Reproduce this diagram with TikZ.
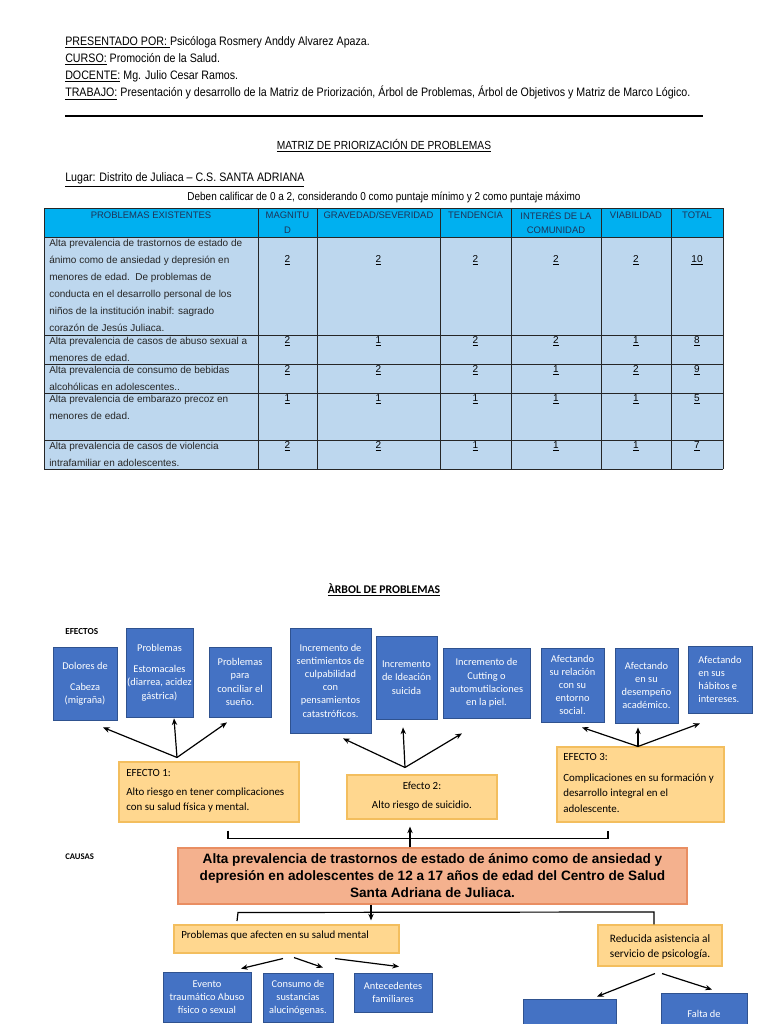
\documentclass[tikz,border=0pt]{standalone}
\usepackage{fontspec}
\setmainfont{Liberation Sans}
\newfontfamily\nar[FakeStretch=0.87]{Liberation Sans}
\newfontfamily\calib{Carlito}
\usetikzlibrary{arrows.meta,calc}
\definecolor{cyanh}{HTML}{00B0F0}
\definecolor{rowb}{HTML}{BDD7EE}
\definecolor{hdrtxt}{HTML}{1F3458}
\definecolor{blueF}{HTML}{4472C4}
\definecolor{blueB}{HTML}{2F528F}
\definecolor{goldF}{HTML}{FFD78F}
\definecolor{goldB}{HTML}{F3BE5E}
\definecolor{salF}{HTML}{F4B18E}
\definecolor{salB}{HTML}{E98E62}
\begin{document}
\begin{tikzpicture}[x=0.75pt,y=-0.75pt,
  sz/.style 2 args={minimum width=#1*0.75pt, minimum height=#2*0.75pt},
  hdr/.style={anchor=west, inner sep=0, font=\nar\fontsize{9.2}{10}\selectfont},
  thd/.style={inner sep=0, text=hdrtxt, font=\fontsize{7.1}{8}\selectfont},
  ttx/.style={anchor=north west, inner sep=0, align=left, text=black!85, font=\fontsize{7.5}{12.75}\selectfont},
  num/.style={inner sep=0, font=\fontsize{7.5}{8}\selectfont},
  tline/.style={line width=0.7pt, black!85},
  bluebox/.style={draw=blueB, fill=blueF, line width=0.6pt, text=white, inner sep=0, align=center, font=\calib\fontsize{7.8}{9.9}\selectfont},
  goldbox/.style={draw=goldB, fill=goldF, line width=0.8pt, inner sep=0},
  gtext/.style={inner sep=0, font=\calib\fontsize{8.2}{10}\selectfont},
  mainbox/.style={draw=salB, fill=salF, line width=0.8pt, inner sep=0, align=center, font=\bfseries\fontsize{10.2}{12.75}\selectfont},
  arr/.style={-{Stealth[length=5pt,width=4pt]}, line width=0.9pt},
  conn/.style={line width=0.9pt}]
\useasboundingbox (0,0) rectangle (768,1024);
\fill[white] (0,0) rectangle (768,1024);
\clip (0,0) rectangle (768,1024);

% ---------- header ----------
\node[hdr] (h1) at (65,42) {\underline{PRESENTADO POR:\ }Psicóloga Rosmery Anddy Alvarez Apaza.};
\node[hdr] (h2) at (65,59) {\underline{CURSO:}\ Promoción de la Salud.};
\node[hdr] (h3) at (65,76) {\underline{DOCENTE:}\ Mg. Julio Cesar Ramos.};
\node[hdr] (h4) at (65,93) {\underline{TRABAJO:}\ Presentación y desarrollo de la Matriz de Priorización, Árbol de Problemas, Árbol de Objetivos y Matriz de Marco Lógico.};
\draw[line width=0.8pt] (65,116) -- (703,116);

\node[hdr, anchor=center, font=\nar\fontsize{8.8}{10}\selectfont] (mt) at (384,146) {\underline{MATRIZ DE PRIORIZACIÓN DE PROBLEMAS}};
\node[hdr] (lg) at (65,180) {\underline{Lugar: Distrito de Juliaca – C.S. SANTA ADRIANA}};
\node[hdr, anchor=center, font=\nar\fontsize{8.6}{10}\selectfont] (db) at (384,197) {Deben calificar de 0 a 2, considerando 0 como puntaje mínimo y 2 como puntaje máximo};

% ---------- table ----------
\fill[cyanh] (44,208) rectangle (723,237);
\fill[rowb] (44,237) rectangle (723,469);
\foreach \yy in {208,237,335,364,393,440,469} \draw[tline] (44,\yy) -- (723,\yy);
\foreach \xx in {44,258,317,440,511,601,671,723} \draw[tline] (\xx,208) -- (\xx,469);

\node[thd] (c1) at (151,215) {PROBLEMAS EXISTENTES};
\node[thd] (c2a) at (287.5,215) {MAGNITU};
\node[thd] (c2b) at (287.5,230) {D};
\node[thd] (c3) at (378.5,215) {GRAVEDAD/SEVERIDAD};
\node[thd] (c4) at (475.5,215) {TENDENCIA};
\node[thd] (c5a) at (556,215) {INTERÉS DE LA};
\node[thd] (c5b) at (556,230) {COMUNIDAD};
\node[thd] (c6) at (636,215) {VIABILIDAD};
\node[thd] (c7) at (697,215) {TOTAL};

\node[ttx] (r1) at (49,239) {Alta prevalencia de trastornos de estado de\\ánimo como de ansiedad y depresión en\\menores de edad.\ \ De problemas de\\conducta en el desarrollo personal de los\\niños de la institución inabif: sagrado\\corazón de Jesús Juliaca.};
\node[ttx] (r2) at (49,337) {Alta prevalencia de casos de abuso sexual a\\menores de edad.};
\node[ttx] (r3) at (49,366) {Alta prevalencia de consumo de bebidas\\alcohólicas en adolescentes..};
\node[ttx] (r4) at (49,395) {Alta prevalencia de embarazo precoz en\\menores de edad.};
\node[ttx] (r5) at (49,442) {Alta prevalencia de casos de violencia\\intrafamiliar en adolescentes.};

\foreach \yy/\a/\b/\c/\d/\e/\f in {260/2/2/2/2/2/10, 341/2/1/2/2/1/8, 370/2/2/2/1/2/9, 399/1/1/1/1/1/5, 446/2/2/1/1/1/7}{
  \node[num] at (287.5,\yy) {\underline{\a}};
  \node[num] at (378.5,\yy) {\underline{\b}};
  \node[num] at (475.5,\yy) {\underline{\c}};
  \node[num] at (556,\yy) {\underline{\d}};
  \node[num] at (636,\yy) {\underline{\e}};
  \node[num] at (697,\yy) {\underline{\f}};
}

% ---------- tree ----------
\node[inner sep=0, font=\calib\bfseries\fontsize{8.8}{10}\selectfont] (tt) at (384,590) {\underline{ÀRBOL DE PROBLEMAS}};
\node[anchor=west, inner sep=0, font=\calib\bfseries\fontsize{6.9}{8}\selectfont] (lef) at (65,632) {EFECTOS};
\node[anchor=west, inner sep=0, font=\calib\bfseries\fontsize{6.5}{8}\selectfont] (lca) at (65,857) {CAUSAS};

\node[bluebox, sz={64}{73}] (d1) at (85,683.5) {Dolores de\\[6pt]Cabeza\\(migraña)};
\node[bluebox, sz={67}{89}] (d2) at (159.5,672.5) {Problemas\\[6pt]Estomacales\\(diarrea, acidez\\gástrica)};
\node[bluebox, sz={62}{70}] (d3) at (240,682) {Problemas\\para\\conciliar el\\sueño.};
\node[bluebox, sz={81}{105}] (d4) at (330.5,680.5) {Incremento de\\sentimientos de\\culpabilidad\\con\\pensamientos\\catastróficos.};
\node[bluebox, sz={61}{83}] (d5) at (406.5,677.5) {Incremento\\de Ideación\\suicida};
\node[bluebox, sz={87}{70}] (d6) at (486.5,683) {Incremento de\\Cutting o\\automutilaciones\\en la piel.};
\node[bluebox, sz={63}{74}] (d7) at (572.5,685) {Afectando\\su relación\\con su\\entorno\\social.};
\node[bluebox, sz={63}{75}] (d8) at (646.5,685.5) {Afectando\\en su\\desempeño\\académico.};
\node[bluebox, sz={64}{67}, align=left] (d9) at (720,679.5) {Afectando\\en sus\\hábitos e\\intereses.};

\node[goldbox, sz={180}{60}] (ef1) at (209,792) {};
\node[gtext, anchor=west] (ef1a) at (126,773) {EFECTO 1:};
\node[gtext, anchor=west] (ef1b) at (126,793) {Alto riesgo en tener complicaciones};
\node[gtext, anchor=west] (ef1c) at (126,808) {con su salud física y mental.};

\node[goldbox, sz={150}{44}] (ef2) at (422,797) {};
\node[gtext] (ef2a) at (422,786) {Efecto 2:};
\node[gtext] (ef2b) at (422,806) {Alto riesgo de suicidio.};

\node[goldbox, sz={167}{75}] (ef3) at (640.5,784.5) {};
\node[gtext, anchor=west] (ef3a) at (563,757) {EFECTO 3:};
\node[gtext, anchor=west] (ef3b) at (563,779) {Complicaciones en su formación y};
\node[gtext, anchor=west] (ef3c) at (563,794) {desarrollo integral en el};
\node[gtext, anchor=west] (ef3d) at (563,809) {adolescente.};

% effect arrows
\draw[arr] ($(ef1.north)+(-32,-4)$) -- ($(d1.south)+(18,7)$);
\draw[arr] ($(ef1.north)+(-32,-4)$) -- ($(d2.south)+(14.5,1)$);
\draw[arr] ($(ef1.north)+(-32,-4)$) -- ($(d3.south)+(-13,5)$);
\draw[arr] ($(ef2.north)+(-17,-7)$) -- ($(d4.south)+(12.5,5)$);
\draw[arr] ($(ef2.north)+(-17,-7)$) -- ($(d5.south)+(-3.5,8)$);
\draw[arr] ($(ef2.north)+(-17,-7)$) -- ($(d6.south)+(-24.5,15)$);
\draw[arr] ($(ef3.north)+(-2.5,0)$) -- ($(d7.south)+(9.5,5)$);
\draw[arr] ($(ef3.north)+(-2.5,0)$) -- ($(d8.south)+(-8.5,4)$);
\draw[arr] ($(ef3.north)+(-2.5,0)$) -- ($(d9.south)+(-20,10)$);

% main problem
\node[mainbox, sz={509}{56}] (mp) at (432.5,876) {Alta prevalencia de trastornos de estado de ánimo como de ansiedad y\\depresión en adolescentes de 12 a 17 años de edad del Centro de Salud\\Santa Adriana de Juliaca.};

\draw[conn] ($(ef1.south)+(19,8)$) -- ($(ef1.south)+(19,16)$) -- ($(ef3.south)+(-32.5,16)$) -- ($(ef3.south)+(-32.5,8)$);
\draw[arr] ($(mp.north)+(-22.5,0)$) -- ($(ef2.south)+(-12,7)$);

% causes
\node[goldbox, sz={225}{28}] (ps) at (286.5,939) {};
\node[gtext, anchor=west] (pst) at (181,936) {Problemas que afecten en su salud mental};
\node[goldbox, sz={124}{41}] (rd) at (660,945.5) {};
\node[gtext, align=center, font=\calib\fontsize{8.5}{11.25}\selectfont] (rdt) at (660,947.5) {Reducida asistencia al\\servicio de psicología.};

\draw[arr] ($(mp.south)+(-61.5,0)$) -- ($(ps.north)+(84.5,-4)$);
\draw[conn] (237,921) -- (238,912.5) -- ($(rd.north)+(-6,-12.5)$) -- ($(rd.north)+(-6,0)$);

\node[bluebox, sz={88}{50}] (ev) at (207,997) {Evento\\traumático Abuso\\físico o sexual};
\node[bluebox, sz={70}{49}] (cs) at (298,997.5) {Consumo de\\sustancias\\alucinógenas.};
\node[bluebox, sz={78}{39}] (an) at (393,992.5) {Antecedentes\\familiares};
\node[bluebox, sz={93}{40}] (bl) at (569.5,1019) {};
\node[bluebox, sz={86}{44}] (fa) at (704,1015) {};
\node[inner sep=0, text=white, font=\calib\fontsize{7.8}{9.9}\selectfont] (fat) at (704,1014) {Falta de};

\draw[arr] ($(ps.south)+(-3.5,5)$) -- ($(ev.north)+(34,-3)$);
\draw[arr] ($(ps.south)+(7.5,4)$) -- ($(cs.north)+(25,-5)$);
\draw[arr] ($(ps.south)+(48.5,5)$) -- ($(an.north)+(6,-6)$);
\draw[arr] ($(rd.south)+(-5,7)$) -- ($(bl.north)+(27.5,-2)$);
\draw[arr] ($(rd.south)+(2,7)$) -- ($(fa.north)+(8,-3)$);
\end{tikzpicture}
\end{document}
